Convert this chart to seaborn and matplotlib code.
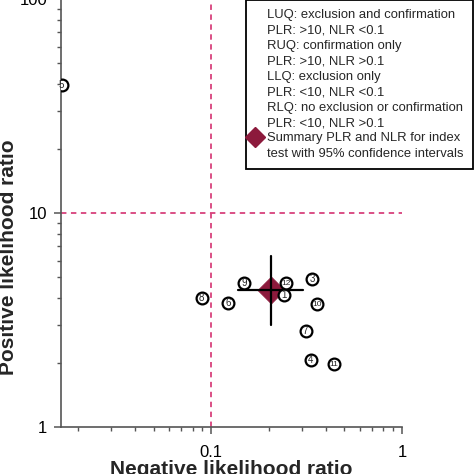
"""Likelihood ratio scattergram: PLR vs NLR for each study with summary estimate."""

import matplotlib

matplotlib.use("Agg")

import matplotlib.pyplot as plt
import numpy as np
import pandas as pd
import seaborn as sns
from matplotlib.lines import Line2D
from matplotlib.ticker import FixedLocator, FuncFormatter, LogLocator, NullFormatter


STUDY_LABELS = ["1", "12", "3", "4", "5", "6", "7", "8", "9", "10", "11"]
STUDY_NLR = [0.242, 0.246, 0.339, 0.333, 0.0165, 0.123, 0.313, 0.0894, 0.149, 0.361, 0.438]
STUDY_PLR = [4.14, 4.69, 4.90, 2.06, 39.6, 3.81, 2.82, 3.99, 4.69, 3.74, 1.97]

SUMMARY_NLR = 0.206
SUMMARY_PLR = 4.37
SUMMARY_NLR_CI = [0.139, 0.302]
SUMMARY_PLR_CI = [3.0, 6.32]

X_TICKS = [0.1, 1]
Y_TICKS = [1, 10, 100]
THRESHOLD_NLR = 0.1
THRESHOLD_PLR = 10

LEGEND_LINES = [
    "LUQ: exclusion and confirmation",
    "PLR: >10, NLR <0.1",
    "RUQ: confirmation only",
    "PLR: >10, NLR >0.1",
    "LLQ: exclusion only",
    "PLR: <10, NLR <0.1",
    "RLQ: no exclusion or confirmation",
    "PLR: <10, NLR >0.1",
]
SUMMARY_LABEL = ["Summary PLR and NLR for index", "test with 95% confidence intervals"]

DASH_COLOR = "#d8417c"
SUMMARY_COLOR = "#8c1a3c"
SPINE_COLOR = "#555555"


def fmt_tick(value, _pos):
    """Format log ticks as plain decimals."""
    return f"{value:g}"


def main() -> None:
    sns.set_style("ticks")
    plt.rcParams["font.family"] = ["Liberation Sans", "DejaVu Sans"]

    studies = pd.DataFrame({"label": STUDY_LABELS, "nlr": STUDY_NLR, "plr": STUDY_PLR})
    summary = pd.DataFrame({"nlr": [SUMMARY_NLR], "plr": [SUMMARY_PLR]})

    fig = plt.figure(figsize=(4.74, 4.74), dpi=100)
    ax = fig.add_axes([0.129, 0.099, 0.719, 0.903])
    ax.set_xscale("log")
    ax.set_yscale("log")
    ax.set_xlim(0.0164, 1.0)
    ax.set_ylim(1, 100)

    ax.axvline(THRESHOLD_NLR, color=DASH_COLOR, lw=1.3, ls=(0, (3, 2.5)), zorder=1)
    ax.axhline(THRESHOLD_PLR, color=DASH_COLOR, lw=1.3, ls=(0, (3, 2.5)), zorder=1)

    sns.scatterplot(
        data=summary, x="nlr", y="plr", marker="D", s=190,
        color=SUMMARY_COLOR, edgecolor=SUMMARY_COLOR, linewidth=0.5, ax=ax, zorder=2,
        legend=False,
    )
    ax.plot(SUMMARY_NLR_CI, [SUMMARY_PLR, SUMMARY_PLR], color="black", lw=1.6, zorder=3)
    ax.plot([SUMMARY_NLR, SUMMARY_NLR], SUMMARY_PLR_CI, color="black", lw=1.6, zorder=3)

    sns.scatterplot(
        data=studies, x="nlr", y="plr", marker="o", s=72,
        facecolor="white", edgecolor="black", linewidth=1.6, ax=ax, zorder=4,
        legend=False,
    )
    for _, row in studies.iterrows():
        ax.text(
            row["nlr"], row["plr"], row["label"], ha="center", va="center",
            fontsize=7 if len(row["label"]) == 1 else 6, zorder=5,
        )

    sns.despine(ax=ax)
    for side in ["left", "bottom"]:
        ax.spines[side].set_color(SPINE_COLOR)
        ax.spines[side].set_linewidth(1.2)

    ax.xaxis.set_major_locator(FixedLocator(X_TICKS))
    ax.yaxis.set_major_locator(FixedLocator(Y_TICKS))
    ax.xaxis.set_minor_locator(LogLocator(base=10, subs=np.arange(2, 10)))
    ax.yaxis.set_minor_locator(LogLocator(base=10, subs=np.arange(2, 10)))
    ax.xaxis.set_major_formatter(FuncFormatter(fmt_tick))
    ax.yaxis.set_major_formatter(FuncFormatter(fmt_tick))
    ax.xaxis.set_minor_formatter(NullFormatter())
    ax.yaxis.set_minor_formatter(NullFormatter())
    ax.tick_params(axis="both", which="major", length=5, width=1.1, color=SPINE_COLOR,
                   labelsize=12, labelcolor="black")
    ax.tick_params(axis="x", which="major", pad=8)
    ax.tick_params(axis="y", which="major", pad=5)
    ax.tick_params(axis="both", which="minor", length=3, width=1.0, color=SPINE_COLOR)

    ax.set_xlabel("Negative likelihood ratio", fontsize=15, fontweight="bold")
    ax.set_ylabel("Positive likelihood ratio", fontsize=15, fontweight="bold")
    ax.xaxis.set_label_coords(0.5, -0.078)
    ax.yaxis.set_label_coords(-0.126, 0.396)

    handles = [Line2D([], [], linestyle="none") for _ in LEGEND_LINES]
    handles.append(
        Line2D([], [], linestyle="none", marker="D", markersize=10,
               markerfacecolor=SUMMARY_COLOR, markeredgecolor=SUMMARY_COLOR)
    )
    handles.append(Line2D([], [], linestyle="none"))
    legend = fig.legend(
        handles, LEGEND_LINES + SUMMARY_LABEL,
        loc="upper right", bbox_to_anchor=(0.998, 1.0), bbox_transform=fig.transFigure,
        fontsize=9.4, handlelength=0, handletextpad=0.95, borderpad=0.7,
        labelspacing=0.25, fancybox=False, framealpha=1, edgecolor="black",
        borderaxespad=0,
    )
    legend.get_frame().set_linewidth(1.3)

    fig.savefig("out.png", dpi=100)
    plt.close(fig)


if __name__ == "__main__":
    main()
